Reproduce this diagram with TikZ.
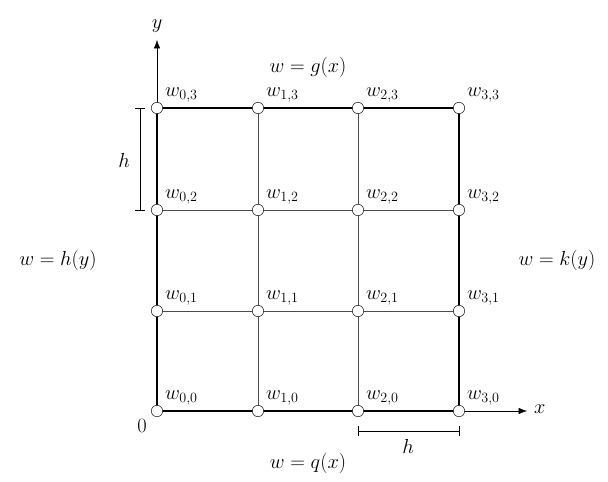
\documentclass[tikz,border=0pt]{standalone}
\usetikzlibrary{arrows.meta}
\begin{document}
\begin{tikzpicture}[x=0.0298cm,y=-0.0298cm,
  every node/.style={font=\fontsize{17.5}{20}\selectfont},
  pt/.style={circle,draw,fill=white,inner sep=0pt,minimum size=0.34cm},
  thin grid/.style={line width=0.4pt,black!70},
  bnd/.style={line width=1.3pt}]
\useasboundingbox (0,0) rectangle (608,482);
\foreach \i/\x in {0/157,1/258,2/358,3/459}{
  \foreach \j/\y in {0/411,1/311,2/210,3/108}{
    \coordinate (c\i\j) at (\x,\y);
  }}
\coordinate (xe) at (527,411);
\coordinate (ye) at (157,40);
\draw[-{Latex[length=7pt]}] (c00) -- (xe);
\draw[-{Latex[length=7pt]}] (c00) -- (ye);
\node[anchor=west] (xl) at (530,409) {$x$};
\node (yl) at (157,26) {$y$};
\foreach \j in {1,2}{\draw[thin grid] (c0\j) -- (c3\j);}
\foreach \i in {1,2}{\draw[thin grid] (c\i0) -- (c\i3);}
\draw[bnd] (c00) -- (c30) -- (c33) -- (c03) -- cycle;
\foreach \i in {0,...,3}{
  \foreach \j in {0,...,3}{
    \node[pt] (n\i\j) at (c\i\j) {};
    \node[anchor=south west,inner sep=1pt] (l\i\j) at ([xshift=0.2cm,yshift=0.12cm]c\i\j) {$w_{\i,\j}$};
  }}
\node (zero) at (142,426) {$0$};
\coordinate (ha) at (140,108); \coordinate (hb) at (140,210);
\draw (ha) -- (hb);
\draw ([xshift=-0.15cm]ha) -- ([xshift=0.15cm]ha);
\draw ([xshift=-0.15cm]hb) -- ([xshift=0.15cm]hb);
\node (hl) at (124,160) {$h$};
\coordinate (hc) at (358,431); \coordinate (hd) at (459,431);
\draw (hc) -- (hd);
\draw ([yshift=-0.15cm]hc) -- ([yshift=0.15cm]hc);
\draw ([yshift=-0.15cm]hd) -- ([yshift=0.15cm]hd);
\node (hl2) at (408,446) {$h$};
\node (g) at (308,67) {$w=g(x)$};
\node (hy) at (58,260) {$w=h(y)$};
\node (ky) at (557,260) {$w=k(y)$};
\node (q) at (308,463) {$w=q(x)$};
\end{tikzpicture}
\end{document}
